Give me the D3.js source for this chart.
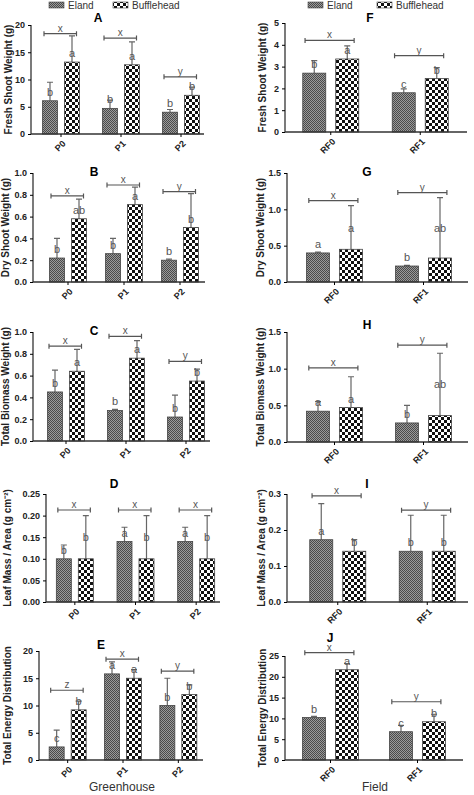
<!DOCTYPE html>
<html><head><meta charset="utf-8">
<script src="https://cdn.jsdelivr.net/npm/d3@7"></script>
<style>body{margin:0;background:#fff}text{font-family:"Liberation Sans",Arial,sans-serif}</style>
</head><body>
<script>
var seriesNames = ['Eland', 'Bufflehead'];
var greenCats = ['P0', 'P1', 'P2'];
var fieldCats = ['RF0', 'RF1'];

// values, error tops, significance letters, bracket level, bracket letter
var elandA = [6.1, 4.7, 4.0], elandErrA = [9.5, 6.2, 4.5], buffA = [13.2, 12.7, 7.1], buffErrA = [18, 16.9, 8.6];
var lettersA = [['b','a'],['b','a'],['b','b']], bracketA = [18.4, 17.6, 10.5], groupA = ['x','x','y'];
var elandB = [0.22, 0.26, 0.20], elandErrB = [0.40, 0.40, 0.21], buffB = [0.58, 0.71, 0.50], buffErrB = [0.76, 0.87, 0.81];
var lettersB = [['b','ab'],['b','a'],['b','b']], bracketB = [0.79, 0.89, 0.83], groupB = ['x','x','y'];
var elandC = [0.45, 0.28, 0.22], elandErrC = [0.65, 0.29, 0.42], buffC = [0.64, 0.76, 0.55], buffErrC = [0.84, 0.92, 0.66];
var lettersC = [['b','a'],['b','a'],['b','b']], bracketC = [0.87, 0.96, 0.73], groupC = ['x','x','y'];
var elandD = [0.10, 0.14, 0.14], elandErrD = [0.132, 0.173, 0.173], buffD = [0.10, 0.10, 0.10], buffErrD = [0.20, 0.20, 0.20];
var lettersD = [['b','b'],['a','b'],['a','b']], bracketD = [0.213, 0.213, 0.213], groupD = ['x','x','x'];
var elandE = [2.4, 15.8, 10.0], elandErrE = [5.5, 18.0, 15.0], buffE = [9.2, 15.0, 12.0], buffErrE = [10.8, 16.6, 13.8];
var lettersE = [['c','b'],['a','a'],['b','b']], bracketE = [12.8, 18.5, 16.3], groupE = ['z','x','y'];
var elandF = [2.7, 1.8], elandErrF = [3.27, 1.98], buffF = [3.35, 2.45], buffErrF = [3.95, 2.95];
var lettersF = [['b','a'],['c','b']], bracketF = [4.2, 3.5], groupF = ['x','y'];
var elandG = [0.40, 0.22], elandErrG = [0.41, 0.23], buffG = [0.45, 0.33], buffErrG = [1.05, 1.16];
var lettersG = [['a','a'],['b','ab']], bracketG = [1.12, 1.23], groupG = ['x','y'];
var elandH = [0.42, 0.26], elandErrH = [0.55, 0.50], buffH = [0.47, 0.36], buffErrH = [0.89, 1.21];
var lettersH = [['a','a'],['b','ab']], bracketH = [1.01, 1.32], groupH = ['x','y'];
var elandI = [0.173, 0.141], elandErrI = [0.273, 0.241], buffI = [0.141, 0.141], buffErrI = [0.173, 0.241];
var lettersI = [['a','b'],['b','b']], bracketI = [0.295, 0.255], groupI = ['x','y'];
var elandJ = [10.2, 6.8], elandErrJ = [10.5, 8.3], buffJ = [21.7, 9.2], buffErrJ = [23.2, 11.0];
var lettersJ = [['b','a'],['c','b']], bracketJ = [25.8, 14.0], groupJ = ['x','y'];

var svg = d3.select('body').append('svg').attr('width', 474).attr('height', 795);
var defs = svg.append('defs');
var pe = defs.append('pattern').attr('id', 'eland').attr('width', 2).attr('height', 2).attr('patternUnits', 'userSpaceOnUse');
pe.append('rect').attr('width', 2).attr('height', 2).attr('fill', '#9a9a9a');
pe.append('rect').attr('width', 1).attr('height', 1).attr('fill', '#4a4a4a');
pe.append('rect').attr('x', 1).attr('y', 1).attr('width', 1).attr('height', 1).attr('fill', '#4a4a4a');
var pb = defs.append('pattern').attr('id', 'buff').attr('width', 6).attr('height', 6).attr('patternUnits', 'userSpaceOnUse');
pb.append('rect').attr('width', 6).attr('height', 6).attr('fill', '#fff');
pb.append('rect').attr('width', 3).attr('height', 3).attr('fill', '#111');
pb.append('rect').attr('x', 3).attr('y', 3).attr('width', 3).attr('height', 3).attr('fill', '#111');

function panel(o) {
  var g = svg.append('g');
  var x = d3.scaleBand().domain(o.cats).range(o.xr);
  var y = d3.scaleLinear().domain([0, o.max]).range([o.y0, o.y1]);
  var bw = o.bw, gap = o.gap;
  var rows = o.cats.map(function(c, i) {
    return [
      {cx: x(c) + x.bandwidth() / 2 - gap / 2 - bw / 2, v: o.e[i], err: o.ee[i], l: o.letters[i][0], f: 'url(#eland)'},
      {cx: x(c) + x.bandwidth() / 2 + gap / 2 + bw / 2, v: o.b[i], err: o.be[i], l: o.letters[i][1], f: 'url(#buff)'}
    ];
  });
  var bars = [].concat.apply([], rows);
  // error bars
  g.selectAll('.err').data(bars).enter().append('path')
    .attr('d', function(d) {
      return 'M' + d.cx + ',' + y(d.v) + 'V' + y(d.err) + 'M' + (d.cx - 3) + ',' + y(d.err) + 'H' + (d.cx + 3);
    })
    .attr('stroke', '#666').attr('stroke-width', 1.2).attr('fill', 'none');
  g.selectAll('.bar').data(bars).enter().append('rect')
    .attr('x', function(d) { return d.cx - bw / 2; })
    .attr('y', function(d) { return y(d.v); })
    .attr('width', bw)
    .attr('height', function(d) { return y(0) - y(d.v); })
    .attr('fill', function(d) { return d.f; })
    .attr('stroke', '#444').attr('stroke-width', 0.8);
  g.selectAll('.lt').data(bars).enter().append('text')
    .attr('x', function(d) { return d.cx; })
    .attr('y', function(d) {
      var top = y(d.v), et = y(d.err);
      return top - et > 40 ? (top + et) / 2 + 4 : top - 5;
    })
    .attr('text-anchor', 'middle').attr('font-size', 11).attr('fill', '#555')
    .text(function(d) { return d.l; });
  // group brackets
  rows.forEach(function(r, i) {
    var xa = r[0].cx - bw * 0.4, xb = r[1].cx + bw * 0.3, yy = y(o.br[i]);
    g.append('path').attr('d', 'M' + xa + ',' + yy + 'H' + xb + 'M' + xa + ',' + (yy - 2.5) + 'V' + (yy + 2.5) + 'M' + xb + ',' + (yy - 2.5) + 'V' + (yy + 2.5))
      .attr('stroke', '#555').attr('stroke-width', 1.2).attr('fill', 'none');
    g.append('text').attr('x', (xa + xb) / 2).attr('y', yy - 2).attr('text-anchor', 'middle')
      .attr('font-size', 10).attr('fill', '#555').text(o.grp[i]);
  });
  // axes
  var ya = g.append('g').attr('transform', 'translate(' + o.ax + ',0)')
    .call(d3.axisLeft(y).tickValues(o.ticks).tickFormat(d3.format(o.fmt)).tickSize(3));
  ya.select('.domain').attr('d', 'M0,' + y(0) + 'V' + y(o.max)).attr('stroke', '#333').attr('stroke-width', 1.3);
  ya.selectAll('text').attr('font-size', 9).attr('font-weight', 'bold').attr('fill', '#222');
  var xa = g.append('g').attr('transform', 'translate(0,' + y(0) + ')')
    .call(d3.axisBottom(x).tickSize(3));
  xa.select('.domain').attr('d', 'M' + o.ax + ',0H' + o.xend).attr('stroke', '#333').attr('stroke-width', 1.3);
  xa.selectAll('.tick text').attr('font-size', 9).attr('font-weight', 'bold').attr('fill', '#222')
    .attr('x', 0).attr('y', 0).attr('dy', '0.35em')
    .attr('text-anchor', 'end').attr('transform', 'translate(3,8) rotate(-45)');
  g.append('text').attr('x', o.tx).attr('y', o.ty != null ? o.ty : o.y1 + 3).attr('text-anchor', 'middle')
    .attr('font-size', 12).attr('font-weight', 'bold').text(o.title);
  g.append('text').attr('transform', 'translate(' + o.lx + ',' + ((o.y0 + o.y1) / 2) + ') rotate(-90)')
    .attr('text-anchor', 'middle').attr('font-size', 10).attr('font-weight', 'bold').attr('fill', '#222')
    .text(o.label);
}

var L = {cats: greenCats, bw: 15, gap: 7};
var R = {cats: fieldCats, bw: 23, gap: 10};
function mk(base, o) { return Object.assign({}, base, o); }
var lmass = 'Leaf Mass / Area (g cm\u207B\u00B2)';

panel(mk(L, {e: elandA, ee: elandErrA, b: buffA, be: buffErrA, letters: lettersA, br: bracketA, grp: groupA,
  xr: [31, 211], ax: 31, xend: 204, y0: 134, y1: 25, max: 20, ticks: [0,5,10,15,20], fmt: 'd', title: 'A', tx: 98, ty: 22, lx: 12, label: 'Fresh Shoot Weight (g)'}));
panel(mk(L, {e: elandB, ee: elandErrB, b: buffB, be: buffErrB, letters: lettersB, br: bracketB, grp: groupB,
  xr: [40, 208], ax: 33, xend: 205, y0: 282, y1: 173, max: 1, ticks: [0,0.2,0.4,0.6,0.8,1], fmt: '.1f', title: 'B', tx: 94, lx: 9, label: 'Dry Shoot Weight (g)'}));
panel(mk(L, {e: elandC, ee: elandErrC, b: buffC, be: buffErrC, letters: lettersC, br: bracketC, grp: groupC,
  xr: [36, 216], ax: 33, xend: 210, y0: 441, y1: 332, max: 1, ticks: [0,0.2,0.4,0.6,0.8,1], fmt: '.1f', title: 'C', tx: 94, lx: 9, label: 'Total Biomass Weight (g)'}));
panel(mk(L, {e: elandD, ee: elandErrD, b: buffD, be: buffErrD, letters: lettersD, br: bracketD, grp: groupD,
  xr: [44.5, 226.5], ax: 46, xend: 220, y0: 602, y1: 494, max: 0.25, ticks: [0,0.05,0.1,0.15,0.2,0.25], fmt: '.2f', title: 'D', tx: 114, ty: 488, lx: 11, label: lmass}));
panel(mk(L, {e: elandE, ee: elandErrE, b: buffE, be: buffErrE, letters: lettersE, br: bracketE, grp: groupE,
  xr: [40, 206], ax: 39, xend: 203, y0: 760, y1: 651, max: 20, ticks: [0,5,10,15,20], fmt: 'd', title: 'E', tx: 101, ty: 649, lx: 11, label: 'Total Energy Distribution'}));

panel(mk(R, {e: elandF, ee: elandErrF, b: buffF, be: buffErrF, letters: lettersF, br: bracketF, grp: groupF,
  xr: [286, 465], ax: 285, xend: 467, y0: 132, y1: 23, max: 5, ticks: [0,1,2,3,4,5], fmt: 'd', title: 'F', tx: 370, ty: 22, lx: 266, label: 'Fresh Shoot Weight (g)'}));
panel(mk(R, {e: elandG, ee: elandErrG, b: buffG, be: buffErrG, letters: lettersG, br: bracketG, grp: groupG,
  xr: [290, 468], ax: 287, xend: 468, y0: 282, y1: 173, max: 1.5, ticks: [0,0.5,1,1.5], fmt: '.1f', title: 'G', tx: 367, lx: 264, label: 'Dry Shoot Weight (g)'}));
panel(mk(R, {e: elandH, ee: elandErrH, b: buffH, be: buffErrH, letters: lettersH, br: bracketH, grp: groupH,
  xr: [290, 468], ax: 287, xend: 468, y0: 442, y1: 332, max: 1.5, ticks: [0,0.5,1,1.5], fmt: '.1f', title: 'H', tx: 367, ty: 329, lx: 264, label: 'Total Biomass Weight (g)'}));
panel(mk(R, {e: elandI, ee: elandErrI, b: buffI, be: buffErrI, letters: lettersI, br: bracketI, grp: groupI,
  xr: [293, 472], ax: 287, xend: 468, y0: 602, y1: 494, max: 0.3, ticks: [0,0.1,0.2,0.3], fmt: '.1f', title: 'I', tx: 367, ty: 488, lx: 265, label: lmass}));
panel(mk(R, {e: elandJ, ee: elandErrJ, b: buffJ, be: buffErrJ, letters: lettersJ, br: bracketJ, grp: groupJ,
  xr: [287, 461], ax: 285, xend: 463, y0: 760, y1: 656, max: 25, ticks: [0,5,10,15,20,25], fmt: 'd', title: 'J', tx: 330, ty: 642, lx: 266, label: 'Total Energy Distribution'}));

// legends
[[49, 113], [308, 377]].forEach(function(p) {
  seriesNames.forEach(function(s, i) {
    svg.append('rect').attr('x', p[i]).attr('y', 2).attr('width', 15).attr('height', 6)
      .attr('fill', i ? 'url(#buff)' : 'url(#eland)').attr('stroke', '#444').attr('stroke-width', 0.6);
    svg.append('text').attr('x', p[i] + 19).attr('y', 9).attr('font-size', 10).attr('fill', '#333').text(s);
  });
});
svg.append('text').attr('x', 122).attr('y', 791).attr('text-anchor', 'middle').attr('font-size', 12).attr('fill', '#333').text('Greenhouse');
svg.append('text').attr('x', 375).attr('y', 791).attr('text-anchor', 'middle').attr('font-size', 12).attr('fill', '#333').text('Field');
</script>
</body></html>
